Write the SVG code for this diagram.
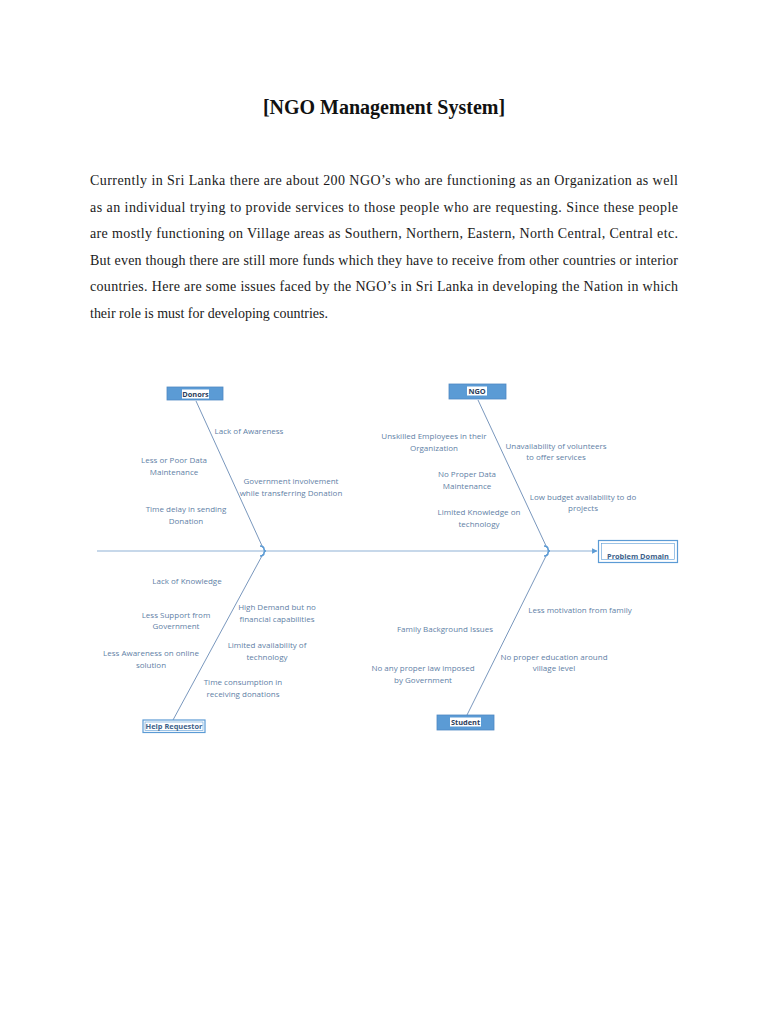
<svg xmlns="http://www.w3.org/2000/svg" width="768" height="1024" viewBox="0 0 768 1024">
<style>
.title{font-family:"Liberation Serif","Times New Roman",serif;font-size:20px;font-weight:bold;fill:#111}
.para{font-family:"Liberation Serif","Times New Roman",serif;font-size:14px;fill:#1a1a1a}
.lbl{font-family:"Open Sans","Liberation Sans",sans-serif;font-size:8px;fill:#5f7fa6;text-anchor:middle}
.box{font-family:"Open Sans","Liberation Sans",sans-serif;font-size:7.4px;font-weight:bold;text-anchor:middle}
.bone{stroke:#6a8bb5;stroke-width:0.9;fill:none}
.spine{stroke:#8fb2d6;stroke-width:1.1;fill:none}
.fillbox{fill:#5b9bd5;stroke:#4f88c2;stroke-width:0.8}
.outbox{fill:#fff;stroke:#5b9bd5;stroke-width:1.2}
</style>
<defs>
<marker id="arr" viewBox="0 0 10 10" refX="9" refY="5" markerWidth="5" markerHeight="5" orient="auto">
<path d="M0,0 L10,5 L0,10 z" fill="#5b9bd5"/>
</marker>
</defs>
<rect width="768" height="1024" fill="#fff"/>
<g id="title"><text class="title" x="384" y="114" text-anchor="middle">[NGO Management System]</text></g>
<g id="paragraph">
<text class="para" x="90" y="185" textLength="588" lengthAdjust="spacing">Currently in Sri Lanka there are about 200 NGO’s who are functioning as an Organization as well</text>
<text class="para" x="90" y="212" textLength="588" lengthAdjust="spacing">as an individual trying to provide services to those people who are requesting. Since these people</text>
<text class="para" x="90" y="238" textLength="588" lengthAdjust="spacing">are mostly functioning on Village areas as Southern, Northern, Eastern, North Central, Central etc.</text>
<text class="para" x="90" y="265" textLength="588" lengthAdjust="spacing">But even though there are still more funds which they have to receive from other countries or interior</text>
<text class="para" x="90" y="291" textLength="588" lengthAdjust="spacing">countries. Here are some issues faced by the NGO’s in Sri Lanka in developing the Nation in which</text>
<text class="para" x="90" y="318" textLength="238" lengthAdjust="spacingAndGlyphs">their role is must for developing countries.</text>
</g>
<g id="connectors">
<line class="spine" x1="97" y1="551" x2="597" y2="551" marker-end="url(#arr)"/>
<line class="bone" x1="196" y1="401" x2="263" y2="548"/>
<line class="bone" x1="478" y1="400" x2="547" y2="548"/>
<line class="bone" x1="173" y1="720" x2="263" y2="554"/>
<line class="bone" x1="467" y1="715" x2="547" y2="554"/>
<path d="M260,546 q4,0 4,3 q0,2 2,2 q-2,0 -2,2 q0,3 -4,3" stroke="#5b9bd5" stroke-width="1.6" fill="none"/>
<path d="M544,546 q4,0 4,3 q0,2 2,2 q-2,0 -2,2 q0,3 -4,3" stroke="#5b9bd5" stroke-width="1.6" fill="none"/>
</g>
<g id="donors">
<rect class="fillbox" x="167" y="387" width="56" height="13"/>
<rect x="182" y="389.5" width="27" height="9" fill="#fff"/>
<text class="box" x="195.5" y="396.8" fill="#2c3e5c">Donors</text>
</g>
<g id="ngo">
<rect class="fillbox" x="449" y="384" width="57" height="15"/>
<rect x="467" y="386.5" width="20" height="9" fill="#fff"/>
<text class="box" x="477" y="394" fill="#2c3e5c">NGO</text>
</g>
<g id="help-requestor">
<rect class="outbox" x="143" y="720" width="62" height="12.5"/>
<rect x="145" y="722" width="58" height="8.5" fill="none" stroke="#5b9bd5" stroke-width="0.6"/>
<text class="box" x="174" y="729" fill="#3d5f8a">Help Requestor</text>
</g>
<g id="student">
<rect class="fillbox" x="437" y="715" width="57" height="15"/>
<rect x="450" y="717.5" width="31" height="9" fill="#fff"/>
<text class="box" x="465.5" y="725" fill="#2c3e5c">Student</text>
</g>
<g id="problem-domain">
<rect class="outbox" x="598.5" y="540.5" width="79" height="22" stroke-width="1.8"/>
<rect x="601.5" y="543.5" width="73" height="16" fill="none" stroke="#5b9bd5" stroke-width="0.6"/>
<text class="box" x="638" y="559" fill="#3d5f8a" font-size="8">Problem Domain</text>
</g>
<g id="donors-causes">
<text class="lbl" x="249" y="434">Lack of Awareness</text>
<text class="lbl" x="174" y="463">Less or Poor Data</text>
<text class="lbl" x="174" y="475">Maintenance</text>
<text class="lbl" x="291" y="484">Government involvement</text>
<text class="lbl" x="291" y="496">while transferring Donation</text>
<text class="lbl" x="186" y="512">Time delay in sending</text>
<text class="lbl" x="186" y="524">Donation</text>
</g>
<g id="ngo-causes">
<text class="lbl" x="434" y="439">Unskilled Employees in their</text>
<text class="lbl" x="434" y="451">Organization</text>
<text class="lbl" x="556" y="449">Unavailability of volunteers</text>
<text class="lbl" x="556" y="460">to offer services</text>
<text class="lbl" x="467" y="477">No Proper Data</text>
<text class="lbl" x="467" y="489">Maintenance</text>
<text class="lbl" x="583" y="500">Low budget availability to do</text>
<text class="lbl" x="583" y="511">projects</text>
<text class="lbl" x="479" y="515">Limited Knowledge on</text>
<text class="lbl" x="479" y="527">technology</text>
</g>
<g id="help-requestor-causes">
<text class="lbl" x="187" y="584">Lack of Knowledge</text>
<text class="lbl" x="176" y="618">Less Support from</text>
<text class="lbl" x="176" y="629">Government</text>
<text class="lbl" x="151" y="656">Less Awareness on online</text>
<text class="lbl" x="151" y="668">solution</text>
<text class="lbl" x="277" y="610">High Demand but no</text>
<text class="lbl" x="277" y="622">financial capabilities</text>
<text class="lbl" x="267" y="648">Limited availability of</text>
<text class="lbl" x="267" y="660">technology</text>
<text class="lbl" x="243" y="685">Time consumption in</text>
<text class="lbl" x="243" y="697">receiving donations</text>
</g>
<g id="student-causes">
<text class="lbl" x="580" y="613">Less motivation from family</text>
<text class="lbl" x="445" y="632">Family Background Issues</text>
<text class="lbl" x="554" y="660">No proper education around</text>
<text class="lbl" x="554" y="671">village level</text>
<text class="lbl" x="423" y="671">No any proper law imposed</text>
<text class="lbl" x="423" y="683">by Government</text>
</g>
</svg>
